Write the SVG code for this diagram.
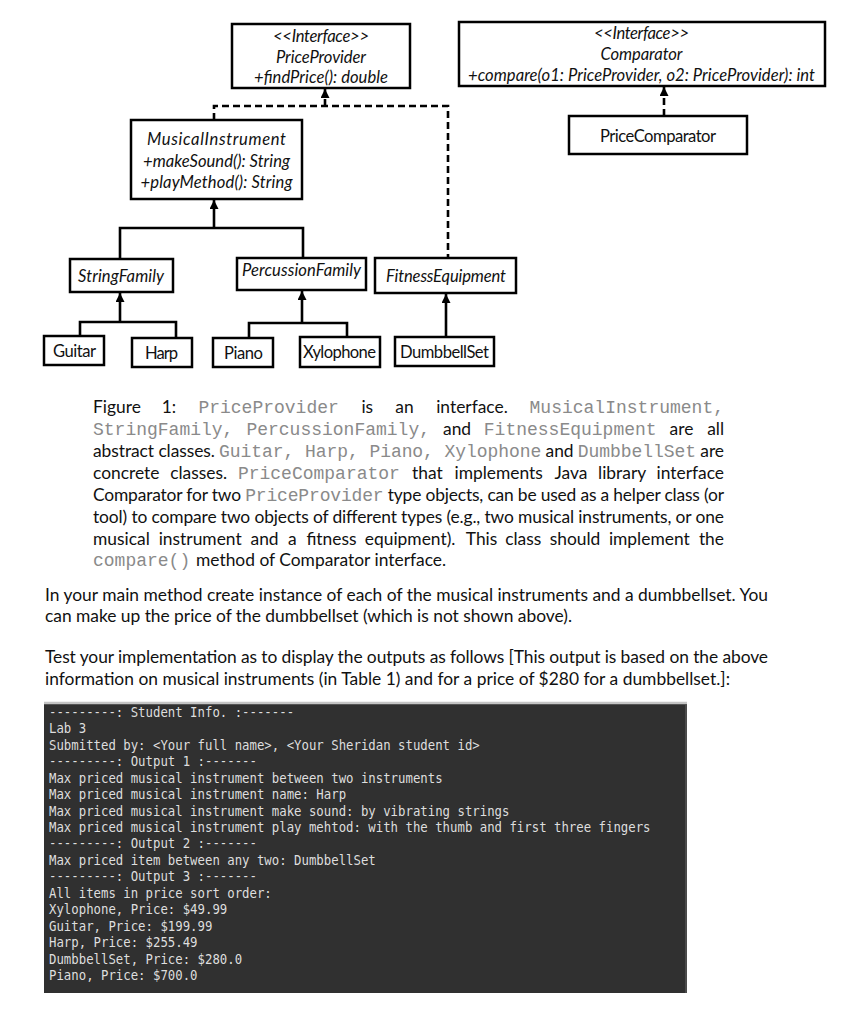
<svg xmlns="http://www.w3.org/2000/svg" width="845" height="1024" viewBox="0 0 845 1024">
<style>
.bx{fill:#fff;stroke:#000;stroke-width:2.5}
.ln{fill:none;stroke:#000;stroke-width:2.6}
.ds{fill:none;stroke:#000;stroke-width:2.6;stroke-dasharray:7 4}
.ui{font-family:Lato,"Liberation Sans",sans-serif;font-size:16.6px;font-style:italic;text-anchor:middle;fill:#111}
.ur{font-family:Lato,"Liberation Sans",sans-serif;font-size:16.6px;text-anchor:middle;fill:#111}
.b{font-family:Lato,"Liberation Sans",sans-serif;font-size:17.4px;fill:#111}
.m{font-family:"Liberation Mono","Courier New",monospace;font-size:18px;fill:#8a8a8a}
.e{text-anchor:end}
.t{font-family:"DejaVu Sans Mono","Liberation Mono",monospace;font-size:13.4px;fill:#dedede;white-space:pre}
</style>
<defs>
<marker id="ah" viewBox="0 0 10 10" refX="10" refY="5" markerWidth="10" markerHeight="9" markerUnits="userSpaceOnUse" orient="auto">
<path d="M0,0 L10,5 L0,10 z" fill="#000"/>
</marker>
</defs>

<g id="connectors">
<path class="ds" d="M214,120 V106 H448 V258"/>
<path class="ds" d="M325,106 V89" marker-end="url(#ah)"/>
<path class="ds" d="M664,116 V87" marker-end="url(#ah)"/>
<path class="ln" d="M214,228 V200" marker-end="url(#ah)"/>
<path class="ln" d="M120,259 V228 H303 V258"/>
<path class="ln" d="M120,322 V293" marker-end="url(#ah)"/>
<path class="ln" d="M80,336 V322 H176 V338"/>
<path class="ln" d="M302,323 V291" marker-end="url(#ah)"/>
<path class="ln" d="M249,338 V323 H347 V337"/>
<path class="ln" d="M446,337 V294" marker-end="url(#ah)"/>
</g>

<g id="PriceProvider">
<rect class="bx" x="232" y="24" width="178" height="64"/>
<text class="ui" x="321" y="42" textLength="96">&lt;&lt;Interface&gt;&gt;</text>
<text class="ui" x="321" y="63" textLength="90">PriceProvider</text>
<text class="ui" x="321" y="83" textLength="134">+findPrice(): double</text>
</g>

<g id="Comparator">
<rect class="bx" x="459" y="22" width="366" height="64"/>
<text class="ui" x="641.5" y="39" textLength="95">&lt;&lt;Interface&gt;&gt;</text>
<text class="ui" x="641.5" y="60" textLength="82">Comparator</text>
<text class="ui" x="641.5" y="81" textLength="347">+compare(o1: PriceProvider, o2: PriceProvider): int</text>
</g>

<g id="PriceComparator">
<rect class="bx" x="569" y="116" width="178" height="38"/>
<text class="ur" x="658" y="142" textLength="116">PriceComparator</text>
</g>

<g id="MusicalInstrument">
<rect class="bx" x="131" y="120" width="171" height="79"/>
<text class="ui" x="216.5" y="145" textLength="139">MusicalInstrument</text>
<text class="ui" x="216.5" y="167" textLength="147">+makeSound(): String</text>
<text class="ui" x="216.5" y="188" textLength="152">+playMethod(): String</text>
</g>

<g id="StringFamily">
<rect class="bx" x="70" y="259" width="103" height="33"/>
<text class="ui" x="121" y="282" textLength="86">StringFamily</text>
</g>

<g id="PercussionFamily">
<rect class="bx" x="237" y="258" width="129" height="32"/>
<text class="ui" x="301.5" y="276" textLength="119">PercussionFamily</text>
</g>

<g id="FitnessEquipment">
<rect class="bx" x="375" y="258" width="141" height="35"/>
<text class="ui" x="446" y="282" textLength="120">FitnessEquipment</text>
</g>

<g id="Guitar">
<rect class="bx" x="44" y="336" width="60" height="29"/>
<text class="ur" x="74.5" y="357" textLength="43">Guitar</text>
</g>

<g id="Harp">
<rect class="bx" x="132" y="338" width="60" height="29"/>
<text class="ur" x="161.5" y="359" textLength="33">Harp</text>
</g>

<g id="Piano">
<rect class="bx" x="213" y="338" width="60" height="29"/>
<text class="ur" x="243.5" y="359" textLength="39">Piano</text>
</g>

<g id="Xylophone">
<rect class="bx" x="300" y="337" width="80" height="30"/>
<text class="ur" x="339.5" y="358" textLength="73">Xylophone</text>
</g>

<g id="DumbbellSet">
<rect class="bx" x="395" y="337" width="99" height="29"/>
<text class="ur" x="444.5" y="358" textLength="89">DumbbellSet</text>
</g>

<g id="caption">
<text class="b" y="413"><tspan x="93">Figure</tspan><tspan x="161.7">1:</tspan><tspan class="m" x="198.4">PriceProvider</tspan><tspan x="361.4">is</tspan><tspan x="395.3">an</tspan><tspan x="436.2">interface.</tspan></text>
<text class="m e" x="724" y="413">MusicalInstrument,</text>

<text class="m" y="435"><tspan x="93">StringFamily,</tspan><tspan x="246.4">PercussionFamily,</tspan><tspan class="b" x="443">and</tspan><tspan x="483.8">FitnessEquipment</tspan><tspan class="b" x="669.6">are</tspan></text>
<text class="b e" x="724" y="435">all</text>

<text class="b" x="93" y="457" textLength="631">abstract classes. <tspan class="m">Guitar, Harp, Piano, Xylophone</tspan> and <tspan class="m">DumbbellSet</tspan> are</text>

<text class="b" y="479"><tspan x="93">concrete</tspan><tspan x="170.2">classes.</tspan><tspan class="m" x="237.9">PriceComparator</tspan><tspan x="412">that</tspan><tspan x="454.5">implements</tspan><tspan x="554.5">Java</tspan><tspan x="598.1">library</tspan></text>
<text class="b e" x="724" y="479">interface</text>

<text class="b" x="93" y="501" textLength="631">Comparator for two <tspan class="m">PriceProvider</tspan> type objects, can be used as a helper class (or</text>

<text class="b" x="93" y="523" textLength="631">tool) to compare two objects of different types (e.g., two musical instruments, or one</text>

<text class="b" y="544.5"><tspan x="93">musical</tspan><tspan x="158.7">instrument</tspan><tspan x="250.5">and</tspan><tspan x="288">a</tspan><tspan x="306.4">fitness</tspan><tspan x="364.8">equipment).</tspan><tspan x="465.8">This</tspan><tspan x="505.2">class</tspan><tspan x="549.7">should</tspan><tspan x="608.9">implement</tspan></text>
<text class="b e" x="724" y="544.5">the</text>

<text class="b" y="566"><tspan class="m" x="93">compare()</tspan><tspan x="196">method of Comparator interface.</tspan></text>
</g>

<g id="instructions">
<text class="b" x="45" y="601" textLength="723">In your main method create instance of each of the musical instruments and a dumbbellset. You</text>
<text class="b" x="45" y="622" textLength="527">can make up the price of the dumbbellset (which is not shown above).</text>
<text class="b" x="45" y="663" textLength="723">Test your implementation as to display the outputs as follows [This output is based on the above</text>
<text class="b" x="45" y="685" textLength="685">information on musical instruments (in Table 1) and for a price of $280 for a dumbbellset.]:</text>
</g>

<g id="terminal">
<rect x="44" y="702" width="643" height="291" fill="#303030"/>
<line x1="44" y1="703" x2="687" y2="703" stroke="#c4c4c4" stroke-width="2.5"/>
<line x1="686" y1="704" x2="686" y2="993" stroke="#555" stroke-width="1.5"/>
<g transform="translate(49,0) scale(0.921,1)">
<text class="t" x="0" y="717">---------: Student Info. :-------</text>
<text class="t" x="0" y="733.4">Lab 3</text>
<text class="t" x="0" y="749.9">Submitted by: &lt;Your full name&gt;, &lt;Your Sheridan student id&gt;</text>
<text class="t" x="0" y="766.3">---------: Output 1 :-------</text>
<text class="t" x="0" y="782.8">Max priced musical instrument between two instruments</text>
<text class="t" x="0" y="799.2">Max priced musical instrument name: Harp</text>
<text class="t" x="0" y="815.6">Max priced musical instrument make sound: by vibrating strings</text>
<text class="t" x="0" y="832.1">Max priced musical instrument play mehtod: with the thumb and first three fingers</text>
<text class="t" x="0" y="848.5">---------: Output 2 :-------</text>
<text class="t" x="0" y="865">Max priced item between any two: DumbbellSet</text>
<text class="t" x="0" y="881.4">---------: Output 3 :-------</text>
<text class="t" x="0" y="897.8">All items in price sort order:</text>
<text class="t" x="0" y="914.3">Xylophone, Price: $49.99</text>
<text class="t" x="0" y="930.7">Guitar, Price: $199.99</text>
<text class="t" x="0" y="947.2">Harp, Price: $255.49</text>
<text class="t" x="0" y="963.6">DumbbellSet, Price: $280.0</text>
<text class="t" x="0" y="980">Piano, Price: $700.0</text>
</g>
</g>
</svg>
